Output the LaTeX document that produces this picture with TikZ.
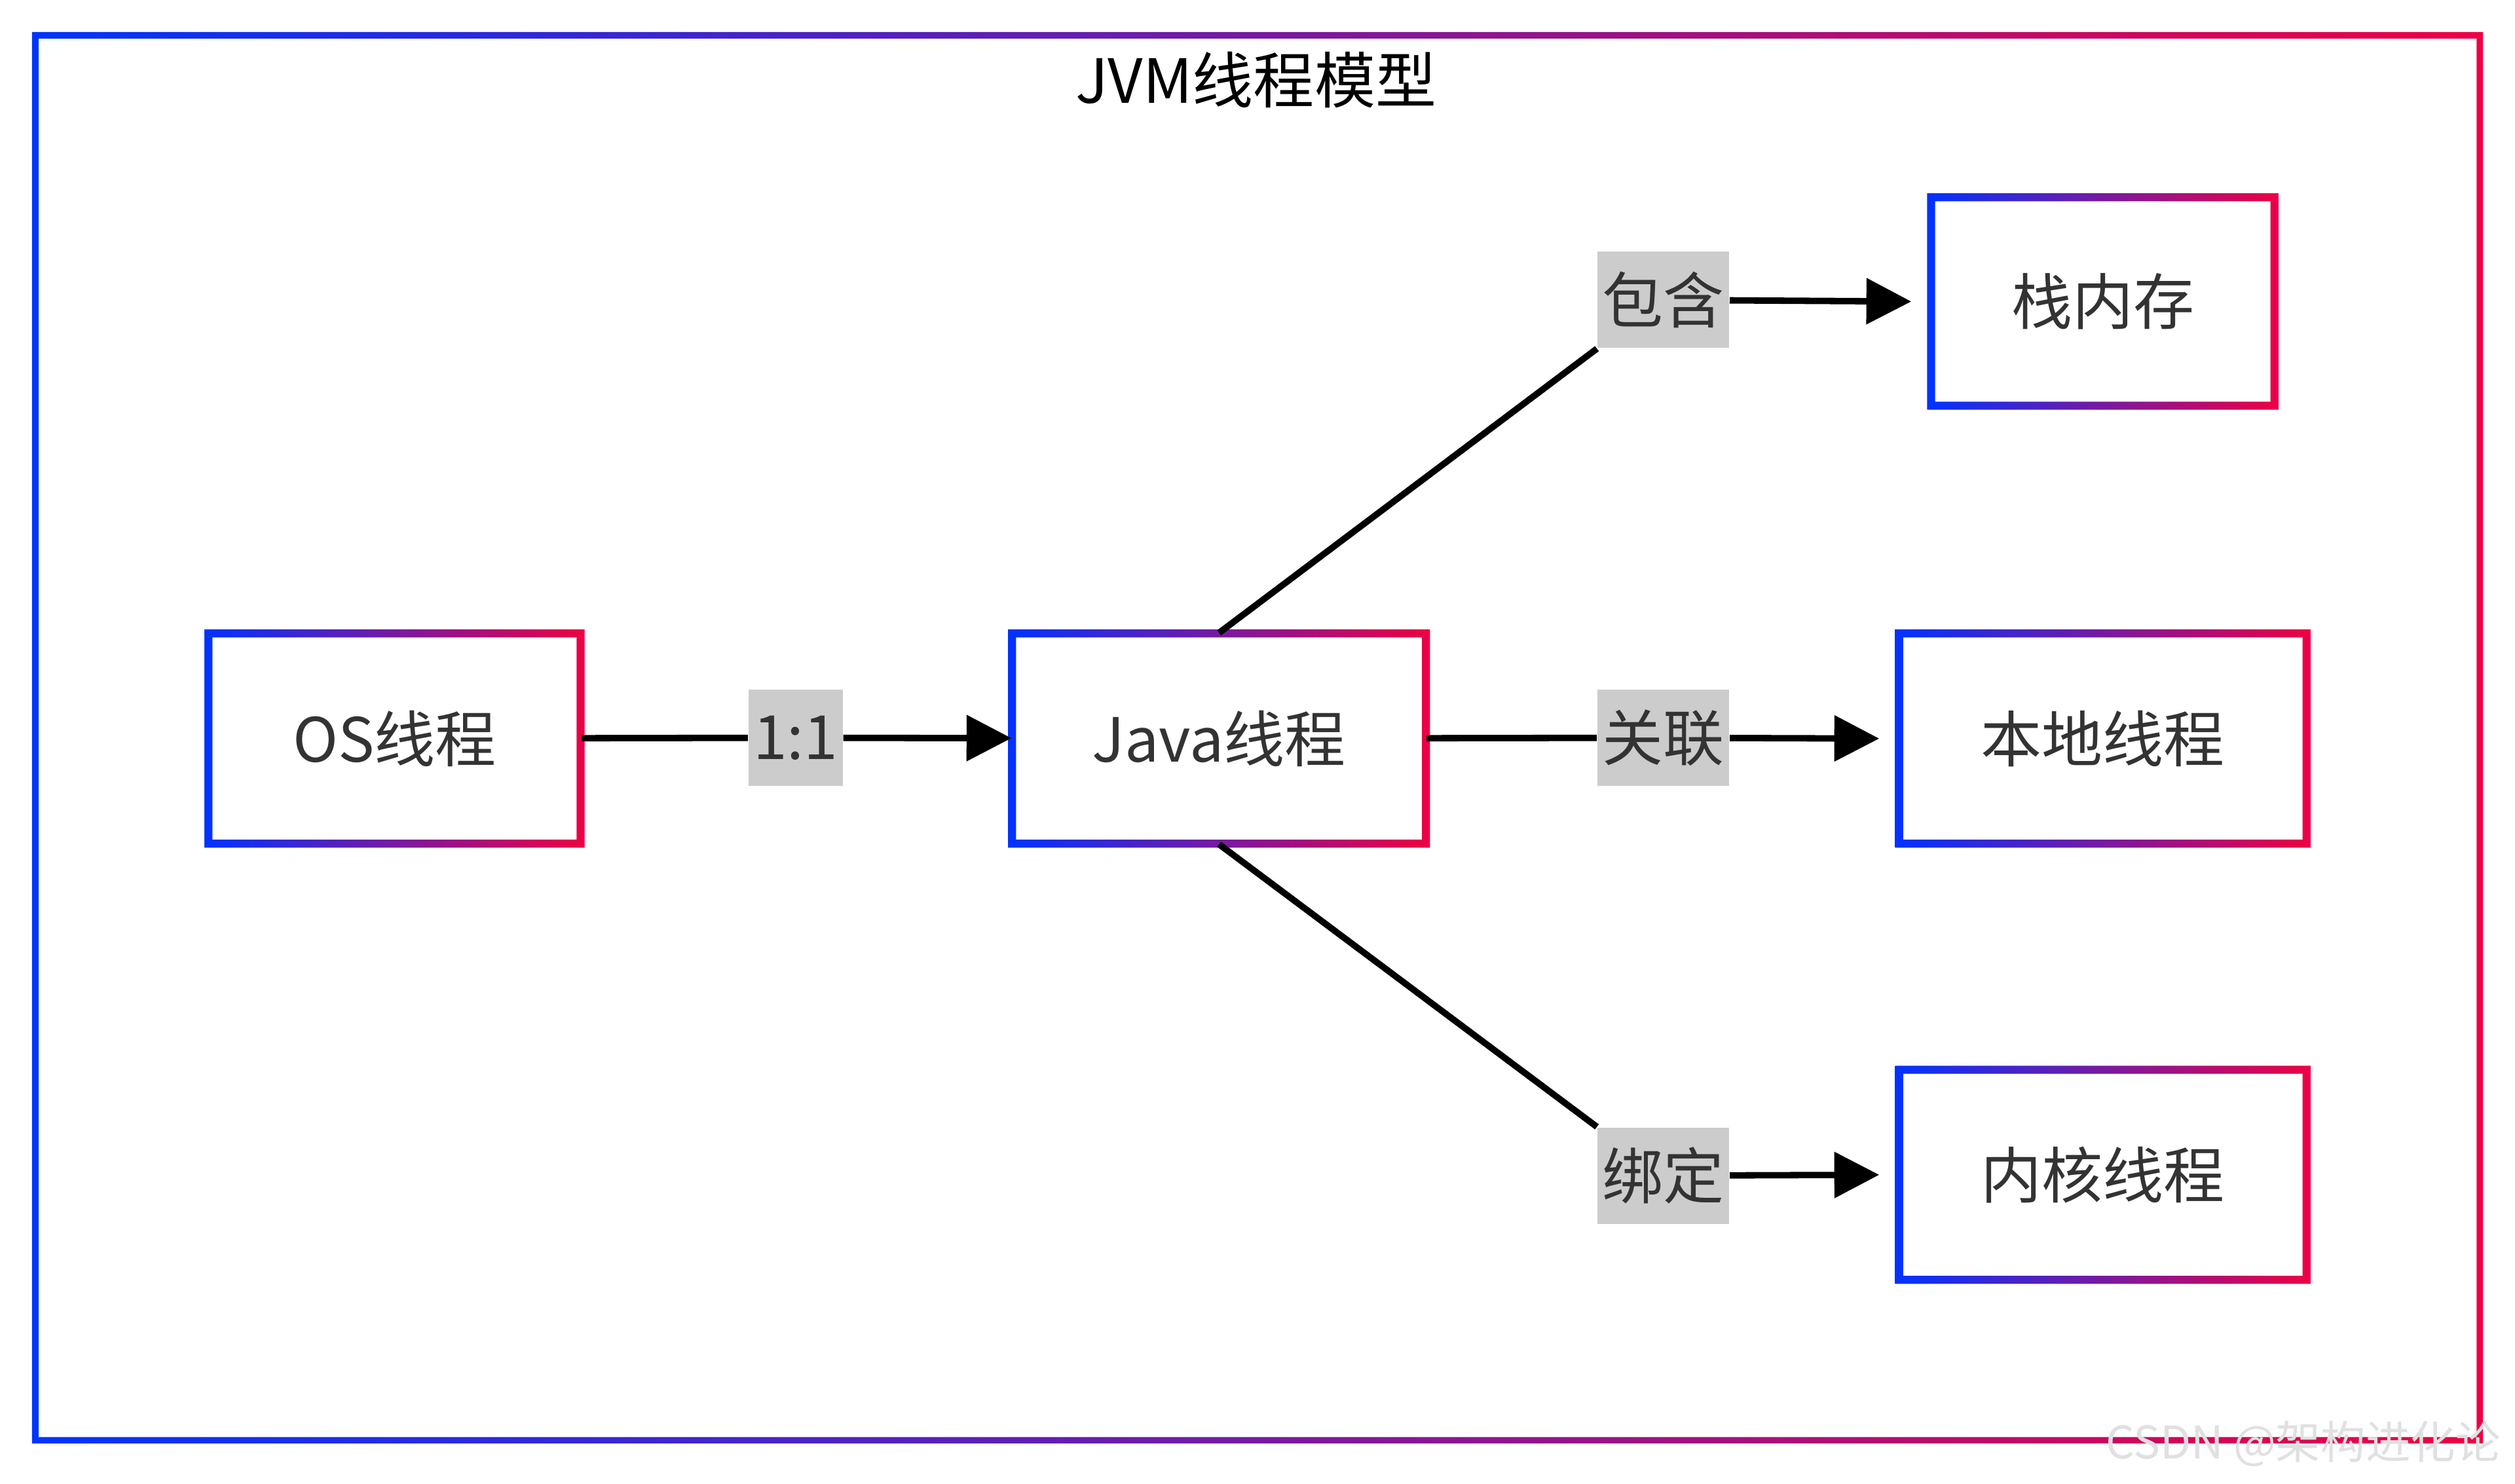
\documentclass[tikz,border=0pt]{standalone}
\usepackage{fontspec}
\setmainfont{Noto Sans CJK SC}
\usetikzlibrary{arrows.meta}
\definecolor{gb}{HTML}{0033FF}
\definecolor{gr}{HTML}{EE0044}
\definecolor{tx}{HTML}{333333}
\newcommand\gradbox[6]{%
  \shade[left color=gb,right color=gr,even odd rule]
    (#2-2.5,#3-2.5) rectangle (#4+2.5,#5+2.5) (#2+2.5,#3+2.5) rectangle (#4-2.5,#5-2.5);
  \node[box,minimum width={(#4-#2)*0.5pt},minimum height={(#5-#3)*0.5pt}] (#1) at ({(#2+#4)/2},{(#3+#5)/2}) {#6};}
\begin{document}
\begin{tikzpicture}[x=0.5pt,y=-0.5pt,
  box/.style={inner sep=0pt,font=\fontsize{19}{22}\selectfont,text=tx},
  lab/.style={fill=black!20,inner sep=1.5pt,font=\fontsize{19}{22}\selectfont,text=tx,minimum height=30pt},
  conn/.style={line width=2pt,-{Triangle[length=14pt,width=14pt]}},
  ln/.style={line width=2pt}]
\useasboundingbox (0,0) rectangle (1568,925);
\fill[white] (0,0) rectangle (1568,925);
\shade[left color=gb,right color=gr,even odd rule]
  (20,20) rectangle (1548,900) (24,24) rectangle (1544,896);
\node[font=\fontsize{19}{22}\selectfont] (title) at (783,50) {JVM线程模型};
\gradbox{os}{130}{395}{362}{526}{OS线程}
\gradbox{java}{631}{395}{889}{526}{Java线程}
\gradbox{stack}{1204}{123}{1418}{253}{栈内存}
\gradbox{native}{1184}{395}{1438}{526}{本地线程}
\gradbox{kernel}{1184}{667}{1438}{798}{内核线程}
\node[lab] (l0) at (496,460) {1:1};
\node[lab] (l1) at (1037,187) {包含};
\node[lab] (l2) at (1037,460) {关联};
\node[lab] (l3) at (1037,733) {绑定};
\draw[ln] (os) -- (l0);
\draw[conn] (l0) -- (java);
\draw[ln] (java.north) -- (l1.south west);
\draw[conn] (l1) -- ([xshift=-6pt]stack.west);
\draw[ln] (java) -- (l2);
\draw[conn] (l2) -- ([xshift=-6pt]native.west);
\draw[ln] (java.south) -- (l3.north west);
\draw[conn] (l3) -- ([xshift=-6pt]kernel.west);
\node[text=black!12,font=\fontsize{14}{16}\selectfont,anchor=east] (wm) at (1566,900) {CSDN @架构进化论};
\end{tikzpicture}
\end{document}
